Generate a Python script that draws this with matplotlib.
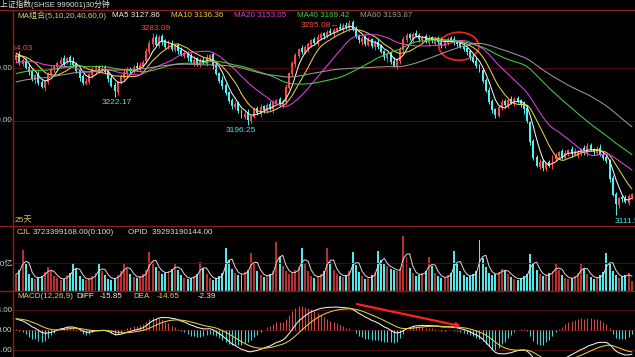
import numpy as np
import pandas as pd
import matplotlib
matplotlib.use("Agg")
import matplotlib.pyplot as plt
from matplotlib.patches import Ellipse
from matplotlib.lines import Line2D

plt.rcParams['font.family'] = ['Liberation Sans', 'Noto Sans CJK SC', 'DejaVu Sans']

# bars before the visible window (only used to warm up the MA / MACD lines)
prior = [3214, 3217, 3213, 3216, 3219, 3216, 3219, 3222, 3218, 3221, 3224, 3221, 3219, 3223, 3226, 3223, 3221, 3225, 3228, 3226,
         3224, 3228, 3231, 3228, 3226, 3230, 3233, 3230, 3233, 3236, 3233, 3231, 3235, 3238, 3235, 3238, 3241, 3238, 3241, 3244,
         3241, 3244, 3247, 3244, 3247, 3250, 3247, 3250, 3254, 3251, 3255, 3258, 3255, 3258, 3262, 3259, 3263, 3266, 3263, 3266]

# 30 minute bars, close / open
close = [3262, 3255, 3258, 3250, 3246, 3240, 3243, 3236, 3232, 3238,
         3244, 3249, 3252,
         3255, 3258, 3254, 3259, 3256, 3253,
         3247, 3241, 3236, 3238, 3244, 3249,
         3251, 3247, 3250, 3246, 3240,
         3233, 3228, 3237,
         3242, 3246, 3249, 3247, 3251,
         3249, 3253, 3256,
         3266, 3274, 3278,
         3272, 3279, 3275,
         3270, 3273, 3268, 3271, 3266,
         3262, 3264, 3259, 3256, 3258,
         3254, 3257, 3255, 3260, 3262,
         3252, 3244, 3238, 3233,
         3226, 3219, 3214, 3216, 3209, 3205, 3207,
         3201, 3205,
         3211, 3208, 3213, 3210, 3215, 3212,
         3218, 3220, 3216, 3219,
         3232, 3245, 3255,
         3262, 3268, 3265, 3270, 3273,
         3276, 3274, 3279, 3282, 3280, 3284, 3283, 3286, 3288,
         3287, 3290, 3289, 3292, 3286,
         3280, 3276, 3278, 3273, 3276, 3271, 3274, 3270,
         3265, 3260, 3263, 3256, 3252, 3258,
         3268, 3277, 3281, 3278, 3282, 3280,
         3277, 3279, 3275, 3278, 3276, 3277, 3275,
         3272, 3275, 3277, 3276, 3274,
         3273, 3270, 3268, 3265,
         3260, 3256, 3252, 3249,
         3238, 3228, 3218, 3210, 3206,
         3213, 3218, 3215, 3220, 3217, 3221, 3219,
         3216, 3211, 3200,
         3180, 3165, 3158, 3161,
         3156, 3160, 3158,
         3165, 3168, 3171, 3166, 3170, 3173, 3169, 3172, 3171,
         3174, 3170, 3176, 3173, 3171, 3174,
         3168, 3165, 3162,
         3145, 3130, 3122, 3127, 3126,
         3124, 3129, 3131]

opens = [3258, 3263, 3254, 3257, 3251, 3247, 3239, 3244, 3237, 3231,
         3237, 3243, 3248,
         3251, 3254, 3259, 3256, 3260, 3257,
         3254, 3248, 3242, 3235, 3237, 3243,
         3248, 3252, 3246, 3251, 3247,
         3241, 3234, 3227,
         3236, 3241, 3245, 3250, 3246,
         3252, 3248, 3252,
         3257, 3265, 3273,
         3279, 3271, 3280,
         3276, 3269, 3274, 3267, 3272,
         3267, 3261, 3265, 3262, 3255,
         3259, 3253, 3258, 3254, 3259,
         3263, 3253, 3245, 3239,
         3234, 3227, 3220, 3213, 3217, 3210, 3204,
         3208, 3200,
         3204, 3212, 3207, 3214, 3209, 3216,
         3211, 3217, 3221, 3215,
         3218, 3231, 3244,
         3254, 3261, 3269, 3264, 3268,
         3272, 3277, 3273, 3278, 3283, 3279, 3285, 3282, 3285,
         3289, 3286, 3291, 3288, 3293,
         3287, 3281, 3275, 3279, 3272, 3277, 3270, 3275,
         3271, 3266, 3259, 3264, 3257, 3251,
         3257, 3267, 3276, 3282, 3277, 3283,
         3281, 3276, 3280, 3274, 3279, 3273, 3278,
         3276, 3271, 3274, 3278, 3277,
         3275, 3274, 3271, 3269,
         3266, 3261, 3257, 3253,
         3248, 3239, 3229, 3219, 3211,
         3205, 3212, 3219, 3214, 3221, 3216, 3222,
         3220, 3217, 3212,
         3199, 3181, 3166, 3157,
         3162, 3155, 3161,
         3157, 3164, 3167, 3172, 3165, 3169, 3174, 3168, 3167,
         3170, 3175, 3169, 3177, 3174, 3170,
         3175, 3169, 3166,
         3163, 3146, 3131, 3121, 3128,
         3127, 3123, 3128]

# shadow lengths above / below the body
up_wick = [2, 3, 1, 2, 4, 2, 1, 3, 2, 1, 2, 3, 1, 2, 2, 3, 1, 2, 3, 2, 1, 2, 3, 1, 2, 2, 1, 3, 2, 1,
           2, 3, 1, 2, 3, 2, 1, 2, 4, 3, 2, 3, 2, 1, 3, 2, 2, 1, 3, 2, 1, 2, 3, 2, 1, 2, 3, 1, 2, 2,
           3, 1, 2, 2, 1, 3, 2, 1, 2, 3, 2, 1, 2, 3, 1, 2, 2, 3, 1, 2, 3, 2, 1, 2, 2, 3, 1, 2, 2, 1,
           3, 2, 2, 1, 2, 3, 2, 1, 2, 3, 2, 1, 3, 2, 2, 1, 2, 3, 1, 2, 2, 3, 1, 2, 3, 2, 1, 2, 2, 3,
           1, 2, 3, 2, 1, 2, 3, 2, 1, 2, 3, 1, 2, 2, 3, 1, 2, 2, 3, 1, 2, 3, 2, 1, 2, 3, 1, 2, 2, 3,
           2, 1, 2, 3, 2, 1, 3, 2, 2, 1, 2, 3, 1, 2, 2, 3, 2, 1, 2, 3, 2, 1, 2, 3, 1, 2, 3, 2, 1, 2,
           3, 2, 1, 2, 3, 2, 2, 1, 3, 2, 1, 2, 3, 2, 1]
dn_wick = [3, 2, 2, 1, 3, 2, 4, 2, 1, 3, 2, 1, 2, 3, 1, 2, 2, 3, 1, 2, 3, 2, 1, 2, 2, 3, 2, 1, 2, 3,
           1, 3, 2, 1, 2, 3, 2, 1, 2, 2, 1, 2, 2, 3, 1, 2, 3, 2, 1, 2, 2, 3, 1, 2, 2, 1, 3, 2, 2, 1,
           2, 2, 3, 1, 2, 3, 1, 2, 3, 2, 1, 2, 2, 3, 2, 1, 2, 3, 2, 1, 2, 3, 1, 2, 3, 2, 1, 2, 3, 2,
           2, 1, 3, 2, 1, 2, 2, 3, 1, 2, 3, 2, 1, 2, 2, 3, 1, 2, 2, 3, 2, 1, 2, 3, 2, 1, 2, 3, 2, 1,
           2, 3, 2, 1, 2, 3, 1, 2, 2, 1, 3, 2, 1, 2, 3, 2, 2, 1, 2, 3, 1, 2, 3, 2, 1, 2, 3, 2, 1, 2,
           2, 3, 1, 2, 3, 2, 1, 2, 2, 3, 4, 2, 3, 2, 1, 2, 3, 2, 1, 2, 2, 3, 2, 1, 2, 3, 1, 2, 3, 2,
           2, 1, 3, 2, 1, 2, 2, 3, 1, 2, 3, 2, 1, 2, 2]
hi_marks = {0: 3264.03, 43: 3283.09, 105: 3295.08}
lo_marks = {31: 3222.17, 73: 3196.25, 189: 3111.5}

# volume, 亿
vol = [60, 75,
       148, 95, 62, 48, 42, 50, 55, 68,
       85, 70, 52, 45, 40, 44, 58, 66,
       100, 78, 55, 42, 38, 46, 52, 64,
       100, 72, 58, 44, 40, 48, 56, 70,
       100, 80, 60, 50, 45, 52, 60, 74,
       141, 105, 84, 70, 62, 66, 72, 80,
       100, 76, 58, 46, 42, 48, 55, 62,
       104, 82, 60, 48, 40, 45, 52, 66,
       152, 110, 80, 65, 56, 60, 68, 74,
       137, 96, 72, 58, 50, 55, 62, 70,
       174, 120, 88, 70, 60, 66, 74, 85,
       152, 98, 70, 55, 46, 52, 60, 72,
       152, 104, 76, 62, 54, 50, 58, 70,
       141, 92, 68, 52, 44, 48, 56, 66,
       144, 110, 95, 88, 80, 76, 70, 78,
       196, 120, 82, 64, 55, 58, 66, 72,
       122, 90, 66, 52, 45, 50, 56, 64,
       144, 100, 72, 58, 50, 54, 62, 70,
       181, 118, 84, 66, 56, 60, 68, 80,
       74, 60, 50, 44, 40, 46, 54, 62,
       133, 100, 76, 60, 52, 56, 64, 72,
       100, 74, 58, 48, 42, 46, 54, 66,
       100, 78, 60, 50, 44, 48, 56, 68,
       137, 96, 70, 56, 48, 52, 58, 64,
       37.23]

ma_periods = [5, 10, 20, 40, 60]
ma_colors = ['#f0f0f0', '#e8d040', '#e040e0', '#40d040', '#9a9a9a']

UP, DN = '#ff4646', '#50f0f0'
RED_LINE = '#8c1a1a'
GRID = '#4e0c0c'

# ---------------------------------------------------------------
n = len(close)
x = np.arange(n)
c = np.array(close, float)
o = np.array(opens, float)
hi = np.maximum(o, c) + np.array(up_wick)
lo = np.minimum(o, c) - np.array(dn_wick)
for k, v in hi_marks.items():
    hi[k] = v
for k, v in lo_marks.items():
    lo[k] = v
up = c >= o
cols = np.where(up, UP, DN)

full = pd.Series(prior + close, dtype=float)
np0 = len(prior)
mas = [full.rolling(p, min_periods=1).mean().values[np0:] for p in ma_periods]
e12 = full.ewm(span=12, adjust=False).mean()
e26 = full.ewm(span=26, adjust=False).mean()
diff = (e12 - e26)
dea = diff.ewm(span=9, adjust=False).mean()
hist = (2 * (diff - dea)).values[np0:]
diff = diff.values[np0:]
dea = dea.values[np0:]

W, H = 635, 357
fig = plt.figure(figsize=(W / 100, H / 100), dpi=100, facecolor='black')


def fx(px):
    return px / W


def fy(py):
    return 1 - py / H


def panel(top, bottom):
    ax = fig.add_axes([fx(13), fy(bottom), 1 - fx(13), (bottom - top) / H], facecolor='black')
    for s in ax.spines.values():
        s.set_visible(False)
    ax.set_xticks([])
    ax.set_yticks([])
    ax.set_xlim(-1, n)
    return ax


# ---- price panel
ax1 = panel(10, 226)
ax1.set_ylim(3200 - 105 / 1.06, 3200 + 111 / 1.06)
for g in [3250, 3200]:
    ax1.axhline(g, color=GRID, lw=0.7)
ax1.vlines(x, lo, hi, colors=cols, lw=0.7)
body = np.maximum(np.abs(c - o), 0.8)
ax1.bar(x, body, bottom=np.minimum(o, c), width=0.62, color=cols, linewidth=0)
for m, col in zip(mas, ma_colors):
    ax1.plot(x, m, color=col, lw=0.75)

fs = 6
ax1.annotate('3264.03', (0, hi[0]), xytext=(2, 1), textcoords='offset pixels',
             ha='center', va='bottom', color='#ff4646', fontsize=fs, annotation_clip=False, clip_on=True)
ax1.annotate('3283.09', (43, hi[43]), xytext=(3, 1), textcoords='offset pixels',
             ha='center', va='bottom', color='#ff4646', fontsize=fs)
ax1.annotate('3222.17', (31, lo[31]), xytext=(2, -2), textcoords='offset pixels',
             ha='center', va='top', color='#50e0e0', fontsize=fs)
ax1.annotate('3196.25', (73, lo[73]), xytext=(-7, -2), textcoords='offset pixels',
             ha='center', va='top', color='#50e0e0', fontsize=fs)
ax1.annotate('3295.08←---', (105, hi[105]), xytext=(-2, -5), textcoords='offset pixels',
             ha='right', va='center', color='#ff4646', fontsize=fs)
ax1.annotate('3111.53', (189, lo[189]), xytext=(-1, -3), textcoords='offset pixels',
             ha='left', va='top', color='#50e0e0', fontsize=fs, annotation_clip=False)
ax1.text(0.003, 0.01, '25天', transform=ax1.transAxes, color='#e0c060', fontsize=fs, va='bottom')
ax1.add_patch(Ellipse((139.5, 3270.5), 12.6, 26.4, fill=False, edgecolor='#e82020', lw=1.3))

# ---- volume panel
ax2 = panel(226, 291)
ax2.set_ylim(0, 100 * 65 / 28)
ax2.axhline(100, color=GRID, lw=0.7)
vcols = np.where(up, '#b83030', '#50e8e8')
ax2.bar(x, vol, width=0.62, color=vcols, linewidth=0)
ax2.plot(x, pd.Series(vol).rolling(3, min_periods=1).mean(), color='#f0d0d0', lw=0.7)

# ---- MACD panel (grid every 20 px)
step = 13
k = 20 / step
ax3 = panel(291, 357)
ax3.set_ylim(-27.5 / k, 38.5 / k)
for g in [step, 0, -step]:
    ax3.axhline(g, color=GRID, lw=0.7)
ax3.vlines(x, 0, hist, colors=np.where(hist >= 0, '#d04848', '#48d0d0'), lw=0.8)
ax3.plot(x, diff, color='#f0f0f0', lw=0.75)
ax3.plot(x, dea, color='#e0d040', lw=0.75)
ax3.annotate('', xy=(141, 2.1 / k * 1.33), xytext=(106.5, 26 / k),
             arrowprops=dict(arrowstyle='-|>', color='#ff2020', lw=1.6, mutation_scale=6))

# ---- frame lines
for py in [10, 226, 291]:
    fig.add_artist(Line2D([0, 1], [fy(py), fy(py)], color=RED_LINE, lw=1.0))
fig.add_artist(Line2D([fx(13), fx(13)], [fy(10), 0], color='#a01818', lw=1.0))

# ---- texts
fig.text(fx(0), fy(4), '上证指数(SHSE 999001)30分钟', color='#e0e0e0', fontsize=5.6, va='center')
legend = [(17, 'MA组合(5,10,20,40,60,0)', '#d8d070'), (112, 'MA5 3127.86', '#f0f0f0'),
          (171, 'MA10 3136.36', '#e8d040'), (234, 'MA20 3153.05', '#d840d8'),
          (297, 'MA40 3169.42', '#40d040'), (360, 'MA60 3193.87', '#9a9a9a')]
for px, s, col in legend:
    fig.text(fx(px), fy(15.5), s, color=col, fontsize=5.8, va='center')
fig.text(fx(17), fy(232), 'CJL', color='#d8d070', fontsize=5.8, va='center')
fig.text(fx(33), fy(232), '3723399168.00(0:100)', color='#e0e0e0', fontsize=5.8, va='center')
fig.text(fx(128), fy(232), 'OPID  39293190144.00', color='#e0e0e0', fontsize=5.8, va='center')
fig.text(fx(17), fy(296), 'MACD(12,26,9)', color='#d8d070', fontsize=5.8, va='center')
fig.text(fx(76), fy(296), 'DIFF', color='#f0f0f0', fontsize=5.8, va='center')
fig.text(fx(100), fy(296), '-15.85', color='#f0f0f0', fontsize=5.8, va='center')
fig.text(fx(133), fy(296), 'DEA', color='#e8d040', fontsize=5.8, va='center')
fig.text(fx(157), fy(296), '-14.65', color='#e8d040', fontsize=5.8, va='center')
fig.text(fx(198), fy(296), '-2.39', color='#f0f0f0', fontsize=5.8, va='center')

for py, s in [(68, '3250.00'), (121, '3200.00'), (264, '100亿'),
              (310, '13.00'), (330, '0.00'), (350, '-13.00')]:
    fig.text(fx(12.5), fy(py), s, color='#d0d0d0', fontsize=5.8, va='center', ha='right')

fig.savefig('out.png', dpi=100, facecolor='black')
